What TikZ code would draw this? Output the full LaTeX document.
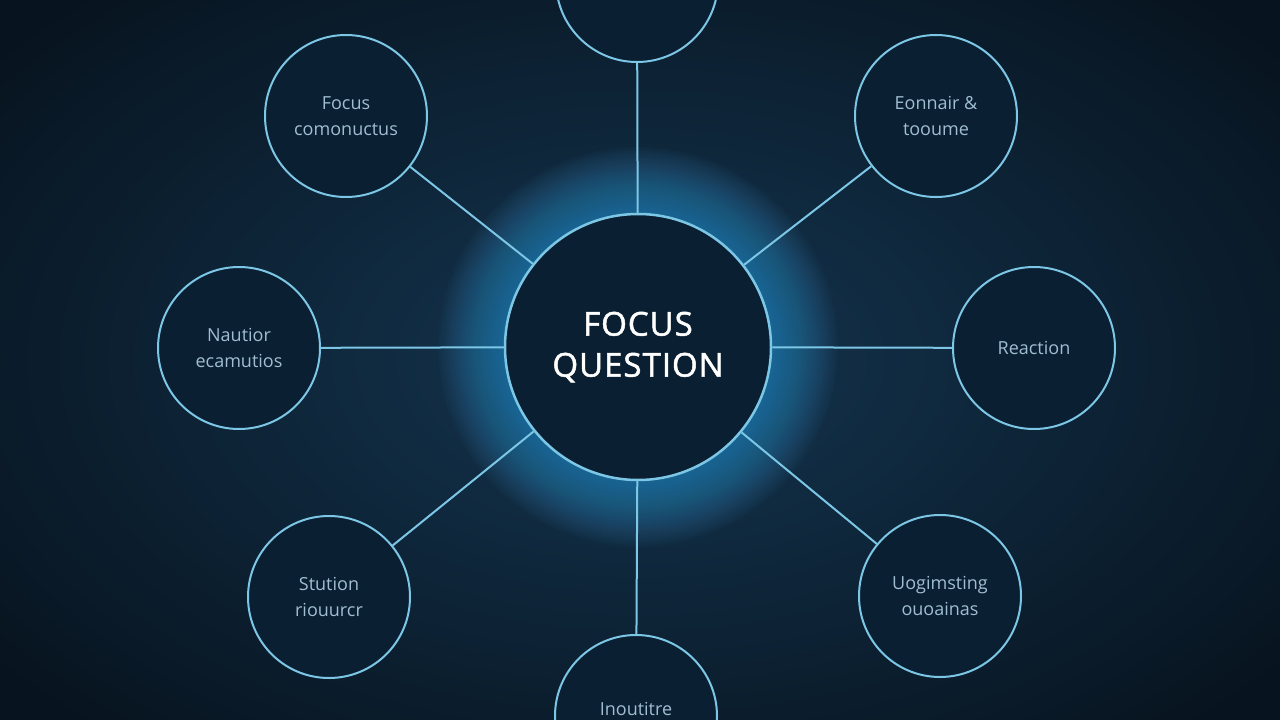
\documentclass[tikz,border=0pt]{standalone}
\usepackage{fontspec}
\setmainfont{Open Sans}
\newfontfamily\focusfont[FakeBold=1.5, LetterSpace=3]{Open Sans}
\definecolor{bgdark}{HTML}{07131E}
\definecolor{bgmid}{HTML}{143550}
\definecolor{ringblue}{HTML}{7CC6E6}
\definecolor{nodefill}{HTML}{0A1F31}
\definecolor{labelblue}{HTML}{A0BED0}
\definecolor{glowblue}{HTML}{3C9DD6}
\tikzset{
    topic/.style={circle, draw=ringblue, line width=2pt, fill=nodefill, minimum size=162pt, inner sep=0pt, align=center, text=labelblue, font=\fontsize{18}{26}\selectfont},
    focus/.style={circle, draw=ringblue, line width=2.5pt, fill=nodefill, minimum size=266pt, inner sep=0pt, align=center, text=white, font=\focusfont\fontsize{33}{41}\selectfont},
    spoke/.style={draw=ringblue, line width=2pt}
}

\begin{document}
\begin{tikzpicture}[x=1pt, y=-1pt]
    \useasboundingbox (0,0) rectangle (1280,720);
    \clip (0,0) rectangle (1280,720);
    \shade[inner color=bgmid, outer color=bgdark] (-200,-150) rectangle (1480,870);
    % halo round the centre
    \foreach \r in {134,136,...,200}
      \fill[glowblue, opacity=0.026] (638,347) circle (\r pt);

    \node[focus] (question) at (638,347) {FOCUS\\QUESTION};

    \node[topic] (top) at (637,-19) {};
    \node[topic] (topleft) at (346,116) {Focus\\comonuctus};
    \node[topic] (topright) at (936,116) {Eonnair \&\\tooume};
    \node[topic] (left) at (239,348) {Nautior\\ecamutios};
    \node[topic] (right) at (1034,348) {Reaction};
    \node[topic] (bottomleft) at (329,597) {Stution\\riouurcr};
    \node[topic] (bottomright) at (940,596) {Uogimsting\\ouoainas};
    \node[topic, text depth=14pt] (bottom) at (636,716) {Inoutitre};

    \draw[spoke] (question) -- (top);
    \draw[spoke] (question) -- (topleft);
    \draw[spoke] (question) -- (topright);
    \draw[spoke] (question) -- (left);
    \draw[spoke] (question) -- (right);
    \draw[spoke] (question) -- (bottomleft);
    \draw[spoke] (question) -- (bottomright);
    \draw[spoke] (question) -- (bottom);
\end{tikzpicture}
\end{document}
